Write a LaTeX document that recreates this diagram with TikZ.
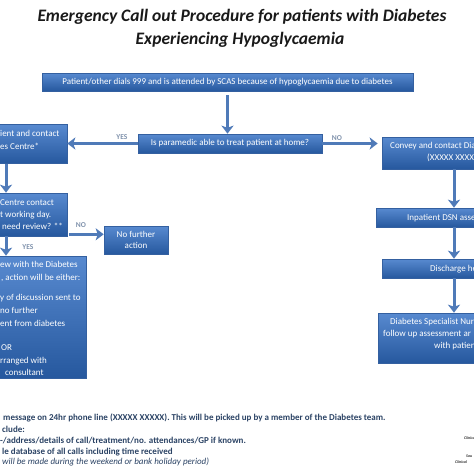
\documentclass[tikz,border=0pt]{standalone}
\usepackage{fontspec}
\setmainfont{Carlito}
\usetikzlibrary{arrows.meta}
\definecolor{boxtop}{RGB}{88,138,208}
\definecolor{boxbot}{RGB}{38,88,158}
\definecolor{boxline}{RGB}{52,96,160}
\definecolor{arrowc}{RGB}{79,122,184}
\definecolor{lblc}{RGB}{128,146,172}
\definecolor{foot}{RGB}{42,66,100}
\definecolor{titlec}{RGB}{25,25,25}
\begin{document}
\begin{tikzpicture}[x=1pt,y=-1pt,
  flowbox/.style={draw=boxline, line width=0.6pt, top color=boxtop, bottom color=boxbot, rectangle, inner sep=0pt, text=white, font=\fontsize{9}{11.5}\selectfont},
  frag/.style={text=white, font=\fontsize{9}{11}\selectfont, inner sep=0pt, anchor=base west},
  flow/.style={draw=arrowc, line width=3pt, -{Stealth[length=8pt,width=12pt,inset=2pt]}},
  lbl/.style={text=lblc, font=\bfseries\fontsize{7.5}{8}\selectfont, inner sep=0pt},
  foottext/.style={text=foot, font=\bfseries\fontsize{9}{10}\selectfont, anchor=base west, inner sep=0pt},
  titletext/.style={text=titlec, font=\bfseries\itshape\fontsize{17.5}{20}\selectfont, anchor=base, inner sep=0pt},
  tiny/.style={text=black!80, font=\bfseries\itshape\fontsize{4}{5}\selectfont, anchor=base west, inner sep=0pt}]
\useasboundingbox (0,0) rectangle (474,474);
\clip (0,0) rectangle (474,474);

% title
\node[titletext] (t1) at (242,21) {Emergency Call out Procedure for patients with Diabetes};
\node[titletext] (t2) at (240,44) {Experiencing Hypoglycaemia};

% boxes
\node[flowbox, minimum width=371pt, minimum height=18pt] (box1) at (227.5,82) {Patient/other dials 999 and is attended by SCAS because of hypoglycaemia due to diabetes};
\node[flowbox, minimum width=184pt, minimum height=19pt] (box2) at (230,143.5) {Is paramedic able to treat patient at home?};
\node[flowbox, minimum width=117pt, minimum height=39pt] (boxA) at (8.5,144) {};
\node[flowbox, minimum width=117pt, minimum height=43pt] (boxB) at (8.5,214.5) {};
\node[flowbox, minimum width=64pt, minimum height=28pt, align=center] (boxNF) at (136,240) {No further\\action};
\node[flowbox, minimum width=136pt, minimum height=122pt] (boxC) at (18,317) {};
\node[flowbox, minimum width=144pt, minimum height=32pt] (boxD) at (454,153) {};
\node[flowbox, minimum width=156pt, minimum height=19pt] (boxE) at (454,217.5) {};
\node[flowbox, minimum width=144pt, minimum height=19pt] (boxF) at (454,268.5) {};
\node[flowbox, minimum width=152pt, minimum height=50pt] (boxG) at (454,338) {};

% text fragments of boxes cut by the edge
\node[frag] (a1) at (0,136.5) {ient and contact};
\node[frag] (a2) at (0,149.5) {es Centre*};
\node[frag] (b1) at (0,205.5) {Centre contact};
\node[frag] (b2) at (0,217.5) {t working day.};
\node[frag] (b3) at (2,229.5) {need review? **};
\node[frag] (c1) at (0,267.5) {ew with the Diabetes};
\node[frag] (c2) at (1,280.5) {, action will be either:};
\node[frag] (c3) at (0,300.5) {y of discussion sent to};
\node[frag] (c4) at (0,313.5) {no further};
\node[frag] (c5) at (0,326.5) {ent from diabetes};
\node[frag] (c6) at (1,350.5) {OR};
\node[frag] (c7) at (0,363.5) {rranged with};
\node[frag] (c8) at (5,375.5) {consultant};
\node[frag] (d1) at (390,148.5) {Convey and contact Dia};
\node[frag] (d2) at (427,160.5) {(XXXXX XXXX};
\node[frag] (e1) at (407,220.5) {Inpatient DSN asse};
\node[frag] (f1) at (430,271.5) {Discharge he};
\node[frag] (g1) at (390,324.5) {Diabetes Specialist Nur};
\node[frag] (g2) at (383,336.5) {follow up assessment ar};
\node[frag] (g3) at (434,348.5) {with patien};

% connectors
\draw[flow, shorten <=4pt] (box1.south) -- (box1.south |- box2.north);
\draw[flow] (box2.west) -- (box2.west -| boxA.east);
\draw[flow, shorten >=4pt] (box2.east) -- (box2.east -| boxD.west);
\draw[flow] ([xshift=-2.5pt]boxA.south) -- ([xshift=-2.5pt]boxA.south |- boxB.north);
\draw[flow] ([yshift=2pt,xshift=2pt]boxB.south east) -- ([yshift=2pt]boxB.south east -| boxNF.west);
\draw[flow] ([xshift=-2.5pt]boxB.south) -- ([xshift=-2.5pt]boxB.south |- boxC.north);
\draw[flow] (boxD.south) -- (boxE.north);
\draw[flow] (boxE.south) -- (boxF.north);
\draw[flow] (boxF.south) -- (boxG.north);

% connector labels
\node[lbl] (yes1) at (122,137) {YES};
\node[lbl] (no1) at (337,138) {NO};
\node[lbl] (no2) at (81,225) {NO};
\node[lbl] (yes2) at (28,247) {YES};

% footer
\node[foottext] (f1l) at (3,420) {message on 24hr phone line (XXXXX XXXXX). This will be picked up by a member of the Diabetes team.};
\node[foottext] (f2l) at (2,432) {clude:};
\node[foottext] (f3l) at (0,443.5) {-/address/details of call/treatment/no. attendances/GP if known.};
\node[foottext] (f4l) at (2,454) {le database of all calls including time received};
\node[foottext, font=\itshape\fontsize{9}{10}\selectfont] (f5l) at (2,464.5) {will be made during the weekend or bank holiday period)};

\node[tiny] (s1) at (464,439) {Clinical};
\node[tiny] (s2) at (466,457) {Sou};
\node[tiny] (s3) at (455,463) {Clinical};
\end{tikzpicture}
\end{document}
